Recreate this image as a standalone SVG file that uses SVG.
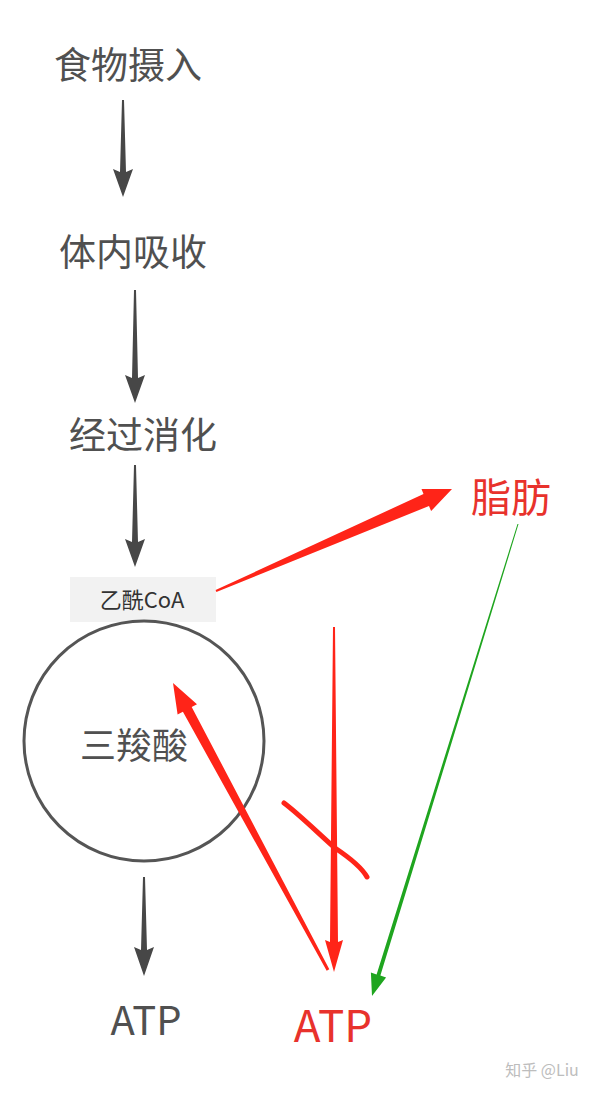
<svg xmlns="http://www.w3.org/2000/svg" width="600" height="1093" viewBox="0 0 600 1093">
<style>
text{font-family:"Noto Sans CJK SC","Noto Sans",sans-serif;text-anchor:middle}
.g{fill:#505050}
.r{fill:#e8322c}
.ga{fill:#474747}
.ra{fill:#ff2418}
</style>
<rect width="600" height="1093" fill="#fff"/>
<g id="n1"><text class="g" x="128" y="79" font-size="37">食物摄入</text></g>
<g id="n2"><text class="g" x="133" y="266" font-size="37">体内吸收</text></g>
<g id="n3"><text class="g" x="143" y="449" font-size="37">经过消化</text></g>
<g id="n4"><rect x="70" y="577" width="146" height="45" fill="#f2f2f2"/><text fill="#333" x="142" y="608" font-size="22">乙酰CoA</text></g>
<g id="n5"><circle cx="144" cy="741" r="120" fill="none" stroke="#555" stroke-width="3"/><text class="g" x="134" y="759" font-size="36">三羧酸</text></g>
<g id="n6"><text class="g" x="146" y="1035" font-size="40">ATP</text></g>
<g id="n7"><text class="r" x="511" y="512" font-size="40">脂肪</text></g>
<g id="n8"><text class="r" x="333" y="1042" font-size="44">ATP</text></g>
<g id="connectors">
<polygon class="ga" points="122,100 124,100 126,172 133,169 123,197 113,169 120,172"/>
<polygon class="ga" points="134,290 136,290 138,378 145,375 135,403 125,375 132,378"/>
<polygon class="ga" points="134,465 136,465 138,542 145,539 135,567 125,539 132,542"/>
<polygon class="ga" points="143,877 145,877 147,950 154,947 144,976 134,947 141,950"/>
<polygon class="ra" points="216.4,591.9 429,506 431.1,511.1 452,489 421.5,489.1 423.5,494 215.6,590.1"/>
<polygon class="ra" points="329.3,969.3 191.7,707 197,704.2 173,683 177.6,714.6 182.9,711.8 326.7,970.7"/>
<polygon class="ra" points="335,627 338,942 343,940 334,972 325,940 330,942 333,627"/>
<polygon fill="#1fa51f" points="518.5,524.1 380.4,975.6 386.1,977.4 372,996 370.9,972.6 376.6,974.4 517.5,523.9"/>
<path d="M284,803 C300,815 320,835 335,848 C350,858 362,868 367,877" fill="none" stroke="#ff2418" stroke-width="5" stroke-linecap="round"/>
</g>
<text x="542" y="1076" font-size="16" fill="#bdbdbd">知乎 @Liu</text>
</svg>
